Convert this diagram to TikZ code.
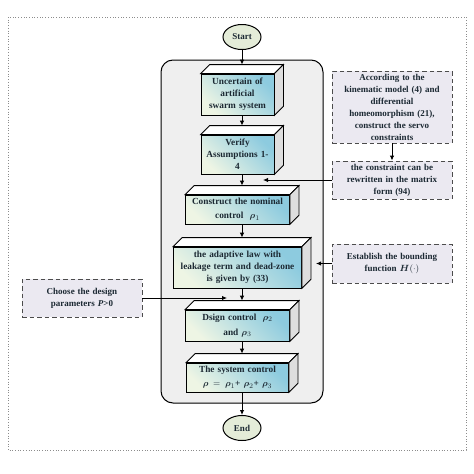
\documentclass[tikz,border=0pt]{standalone}
\usepackage{amsmath}
\usepackage{bm}
\usepackage{fontspec}
\setmainfont{Liberation Serif}
\usetikzlibrary{shapes.geometric,arrows.meta}

\definecolor{boxl}{HTML}{EEF5E4}
\definecolor{boxr}{HTML}{8DCBDF}
\definecolor{notefill}{HTML}{EBE9F1}
\definecolor{termfill}{HTML}{E4ECD8}
\definecolor{panel}{HTML}{EFEFEF}
\definecolor{txt}{HTML}{1C2933}

\tikzset{
	proc/.style={draw, line width=0.8pt, top color=boxr, bottom color=boxl, shading angle=-45, align=center, inner sep=0pt, text=txt, font=\bfseries\fontsize{9.3}{12}\selectfont},
	note/.style={draw=black!70, dash pattern=on 4.5pt off 3pt, line width=0.9pt, fill=notefill, align=center, inner sep=0pt, minimum width=120pt, text width=116pt, text=txt, font=\bfseries\fontsize{9}{12}\selectfont},
	term/.style={ellipse, draw, line width=1pt, fill=termfill, minimum width=38pt, minimum height=25pt, inner sep=0pt, text=txt, font=\bfseries\fontsize{9}{11}\selectfont},
	arr/.style={-{Latex[length=5pt,width=4.5pt]}, line width=0.9pt},
}

% top and right faces of a block, plus its in/out points on the main line
\newcommand{\cubefaces}[1]{%
	\path (#1.north east) ++(9,-9) coordinate (#1-tr);
	\path (#1.south east) ++(9,-9) coordinate (#1-br);
	\draw[line width=0.8pt, fill=white] (#1.north west) -- ++(9,-9) -- (#1-tr) -- (#1.north east) -- cycle;
	\draw[line width=0.8pt, fill=black!13] (#1.north east) -- (#1-tr) -- (#1-br) -- (#1.south east) -- cycle;
	\path (#1.north) ++(4.5,-9) coordinate (#1-in);
	\path (#1.south) ++(4.5,0) coordinate (#1-out);
}

\begin{document}
\begin{tikzpicture}[x=1pt,y=1pt,yscale=-1,xscale=1]
	\useasboundingbox (0,0) rectangle (474,474);
	
	%Outer frame
	\draw[black!45, dotted, line width=0.7pt] (8,17) rectangle (466,450);
	%Panel
	\draw[line width=1pt, fill=panel, rounded corners=12pt] (161,60) rectangle (323,403);
	
	% Terminals
	\node[term] (start) at (242,37) {Start};
	\node[term] (end) at (242,428) {End};
	
	% Blocks
	\node[proc, minimum width=73pt, minimum height=41pt, text width=70pt] (uncert) at (237.5,94.5) {Uncertain of\\artificial\\swarm system};
	\cubefaces{uncert}
	\node[proc, minimum width=73pt, minimum height=39pt, text width=70pt] (verify) at (237.5,154.5) {Verify\\Assumptions 1-\\4};
	\cubefaces{verify}
	\node[proc, minimum width=104pt, minimum height=29pt, text width=100pt, font=\bfseries\fontsize{9.3}{14}\selectfont] (nominal) at (237.5,209.5) {Construct the nominal\\control\ \ $\bm{\rho}_{1}$};
	\cubefaces{nominal}
	\node[proc, minimum width=128pt, minimum height=41pt, text width=126pt] (adapt) at (237.5,267.5) {the adaptive law with\\leakage term and dead-zone\\is given by (33)};
	\cubefaces{adapt}
	\node[proc, minimum width=104pt, minimum height=31pt, text width=100pt, font=\bfseries\fontsize{9.3}{15}\selectfont] (dsign) at (237.5,325.5) {Dsign control\ \ $\bm{\rho}_{2}$\\and $\bm{\rho}_{3}$};
	\cubefaces{dsign}
	\node[proc, minimum width=102pt, minimum height=29pt, text width=100pt, font=\bfseries\fontsize{9.3}{14}\selectfont] (sysctrl) at (237.5,377.5) {The system control\\$\bm{\rho}=\bm{\rho}_{1}$+ $\bm{\rho}_{2}$+ $\bm{\rho}_{3}$};
	\cubefaces{sysctrl}
	
	% Notes
	\node[note, minimum height=72pt] (servo) at (392,107) {According to the\\kinematic model (4) and\\differential\\homeomorphism (21),\\construct the servo\\constraints};
	\node[note, minimum height=38pt] (matrix) at (392,180) {the constraint can be\\rewritten in the matrix\\form (94)};
	\node[note, minimum height=39pt] (bound) at (392,263.5) {Establish the bounding\\function $\bm{H}(\cdot)$};
	\node[note, minimum height=38pt] (param) at (82,298) {Choose the design\\parameters \textit{P}>0};
	
	\coordinate (matrixin) at (263,180);
	\coordinate (boundin) at (316,263.5);
	\coordinate (paramin) at (227,298);
	
	% Connectors
	\draw[arr] (start.south) -- (uncert-in);
	\draw[arr] (uncert-out) -- (verify-in);
	\draw[arr] (verify-out) -- (nominal-in);
	\draw[arr] (nominal-out) -- (adapt-in);
	\draw[arr] (adapt-out) -- (dsign-in);
	\draw[arr] (dsign-out) -- (sysctrl-in);
	\draw[arr] (sysctrl-out) -- (end.north);
	\draw[arr] (servo.south) -- (matrix.north);
	\draw[arr] (matrix.west) -- (matrixin);
	\draw[arr] (bound.west) -- (boundin);
	\draw[arr] (param.east) -- (paramin);
	
\end{tikzpicture}
\end{document}
